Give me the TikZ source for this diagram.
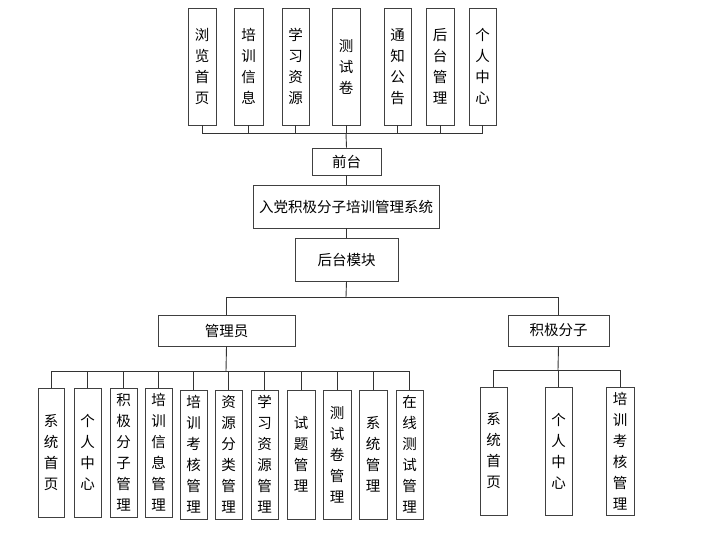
\documentclass[tikz,border=0pt]{standalone}
\usepackage{fontspec}
\setmainfont{Noto Sans CJK SC}
\begin{document}
\begin{tikzpicture}[x=1pt,y=-1pt,
  box/.style={draw=black!75,line width=0.9pt,fill=white,inner sep=0pt,align=center,font=\fontsize{14.5}{21}\selectfont},
  vbox/.style={box,text width=16pt},
  ln/.style={draw=black!80,line width=0.9pt}]
\useasboundingbox (0,0) rectangle (716,535);
\newcommand{\bx}[7][box]{\node[#1,minimum width={#5-#3},minimum height={#6-#4}] (#2) at ({(#3+#5)/2},{(#4+#6)/2}) {#7};}
% top
\bx[vbox]{t1}{188}{8}{216}{125}{浏\\览\\首\\页}
\bx[vbox]{t2}{234}{8}{263}{125}{培\\训\\信\\息}
\bx[vbox]{t3}{282}{8}{309}{125}{学\\习\\资\\源}
\bx[vbox]{t4}{332}{8}{360}{125}{测\\试\\卷}
\bx[vbox]{t5}{384}{8}{411}{125}{通\\知\\公\\告}
\bx[vbox]{t6}{426}{8}{454}{125}{后\\台\\管\\理}
\bx[vbox]{t7}{469}{8}{496}{125}{个\\人\\中\\心}
\bx{qt}{312}{148}{381}{175}{前台}
\bx{sys}{253}{185}{439}{228}{入党积极分子培训管理系统}
\bx{ht}{295}{238}{398}{281}{后台模块}
\bx{gly}{158}{315}{295}{346}{管理员}
\bx{jj}{508}{315}{609}{346}{积极分子}
% bottom left
\bx[vbox]{b1}{38}{388}{64}{517}{系\\统\\首\\页}
\bx[vbox]{b2}{74}{388}{101}{517}{个\\人\\中\\心}
\bx[vbox]{b3}{110}{388}{137}{517}{积\\极\\分\\子\\管\\理}
\bx[vbox]{b4}{145}{388}{172}{517}{培\\训\\信\\息\\管\\理}
\bx[vbox]{b5}{180}{390}{207}{519}{培\\训\\考\\核\\管\\理}
\bx[vbox]{b6}{215}{390}{242}{519}{资\\源\\分\\类\\管\\理}
\bx[vbox]{b7}{251}{390}{278}{519}{学\\习\\资\\源\\管\\理}
\bx[vbox]{b8}{287}{390}{315}{519}{试\\题\\管\\理}
\bx[vbox]{b9}{323}{390}{351}{519}{测\\试\\卷\\管\\理}
\bx[vbox]{b10}{359}{390}{387}{519}{系\\统\\管\\理}
\bx[vbox]{b11}{396}{390}{423}{519}{在\\线\\测\\试\\管\\理}
% bottom right
\bx[vbox]{r1}{480}{387}{507}{515}{系\\统\\首\\页}
\bx[vbox]{r2}{545}{387}{572}{515}{个\\人\\中\\心}
\bx[vbox]{r3}{606}{387}{634}{515}{培\\训\\考\\核\\管\\理}
% connectors
\coordinate (tb) at (346,133);
\coordinate (mb) at (346,297);
\coordinate (lb) at (226,371);
\coordinate (rb) at (558,370);
\foreach \n in {t1,t2,t3,t4,t5,t6,t7} \draw[ln] (\n.south) -- (\n.south|-tb);
\draw[ln] (t1.south|-tb) -- (t7.south|-tb);
\draw[ln] (tb) -- (qt.north);
\draw[ln] (qt.south) -- (qt.south|-sys.north);
\draw[ln] (sys.south) -- (sys.south|-ht.north);
\draw[ln] (ht.south) -- (mb);
\draw[ln] (gly.north|-mb) -- (jj.north|-mb);
\draw[ln] (gly.north|-mb) -- (gly.north);
\draw[ln] (jj.north|-mb) -- (jj.north);
\draw[ln] (gly.south) -- (lb);
\draw[ln] (b1.north|-lb) -- (b11.north|-lb);
\foreach \n in {b1,b2,b3,b4,b5,b6,b7,b8,b9,b10,b11} \draw[ln] (\n.north|-lb) -- (\n.north);
\draw[ln] (jj.south) -- (rb);
\draw[ln] (r1.north|-rb) -- (r3.north|-rb);
\foreach \n in {r1,r2,r3} \draw[ln] (\n.north|-rb) -- (\n.north);
\end{tikzpicture}
\end{document}
